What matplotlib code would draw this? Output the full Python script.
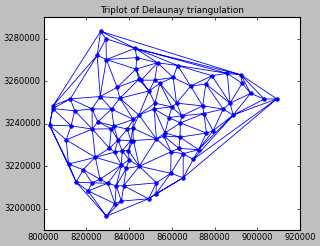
import matplotlib
matplotlib.use("Agg")
import matplotlib.pyplot as plt
import matplotlib.tri as mtri
import numpy as np

# point coordinates (easting / northing)
x = [826700, 829200, 825100, 829400, 842800, 843600, 843200, 844600, 845700, 852000,
     853300, 862700, 860600, 854400, 849300, 834400, 826500, 835700, 812500, 804500,
     804400, 814600, 822700, 831800, 844600, 852100, 851700, 842000, 825400, 868800,
     875900, 878700, 885900, 892300, 892900, 896800, 903200, 909100, 887200, 884000,
     888700, 862200, 860000, 874400, 875000, 864600, 858600, 864000, 802800, 812900,
     822800, 831700, 832900, 839200, 841800, 810600, 834800, 840800, 842000, 852800,
     856800, 856300, 863800, 876200, 879300, 830800, 833200, 836800, 839700, 824200,
     840000, 811700, 836400, 838700, 844800, 818500, 863300, 859600, 865300, 872500,
     870000, 826400, 815300, 822700, 830100, 834000, 837500, 852800, 859500, 865300,
     820800, 852600, 849100, 836400, 833400, 829400]
y = [3283500, 3280000, 3272200, 3270200, 3275500, 3271100, 3265700, 3260900, 3260500, 3260500,
     3268700, 3267400, 3261800, 3259000, 3255400, 3257100, 3252800, 3252000, 3251700, 3248500,
     3247100, 3246100, 3247000, 3246900, 3244100, 3249700, 3247000, 3242000, 3240900, 3257700,
     3258700, 3262600, 3263700, 3263000, 3259000, 3254300, 3251600, 3251700, 3249700, 3246900,
     3244100, 3249700, 3247900, 3248400, 3244800, 3243700, 3242900, 3240400, 3239300, 3239000,
     3237500, 3237600, 3238900, 3237500, 3237900, 3232400, 3232300, 3232100, 3232100, 3232800,
     3235700, 3234200, 3233700, 3235600, 3236700, 3228500, 3226600, 3227300, 3227400, 3224200,
     3223000, 3221000, 3220600, 3219000, 3220000, 3218400, 3228400, 3226800, 3225900, 3227800,
     3223200, 3213900, 3212500, 3212200, 3212000, 3210800, 3210800, 3212200, 3216700, 3214600,
     3208400, 3207100, 3204700, 3203600, 3202400, 3196500]

plt.style.use("classic")
fig = plt.figure(figsize=(3.2, 2.46), dpi=100, facecolor="#bfbfbf")
ax = fig.add_axes([0.136, 0.065, 0.802, 0.864])

tri = mtri.Triangulation(np.array(x, float), np.array(y, float))
ax.triplot(tri, "bo-", lw=0.6, ms=2.6, mec="b")

ax.set_xlim(800000, 920000)
ax.set_ylim(3190000, 3290000)
ax.set_xticks(np.arange(800000, 920001, 20000))
ax.set_yticks(np.arange(3200000, 3280001, 20000))
ax.ticklabel_format(useOffset=False, style="plain")
ax.tick_params(labelsize=6, length=2, pad=2, width=0.5)
for s in ax.spines.values():
    s.set_linewidth(0.8)
ax.set_title("Triplot of Delaunay triangulation", fontsize=6.4, pad=3)

fig.savefig("out.png", dpi=100, facecolor=fig.get_facecolor())
